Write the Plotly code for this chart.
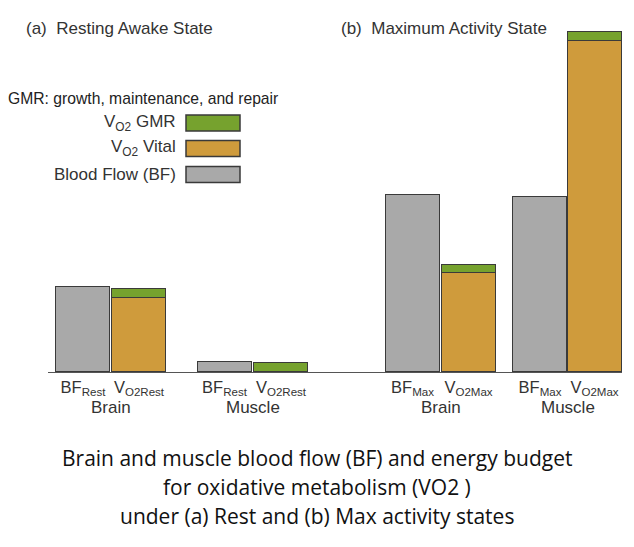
import plotly.graph_objects as go

# ---- data (arbitrary units) ----
bar_labels = ["BF<sub>Rest</sub>", "V<sub>O2Rest</sub>", "BF<sub>Rest</sub>", "V<sub>O2Rest</sub>",
              "BF<sub>Max</sub>", "V<sub>O2Max</sub>", "BF<sub>Max</sub>", "V<sub>O2Max</sub>"]
group_labels = ["Brain", "Muscle", "Brain", "Muscle"]
blood_flow = [85, 10, 177, 175]          # BF bars: brain rest, muscle rest, brain max, muscle max
vo2_vital = [74, 0, 99, 331]             # VO2 vital part
vo2_gmr = [9, 9, 8, 9]                   # VO2 GMR part
panel_titles = ["(a)  Resting Awake State", "(b)  Maximum Activity State"]
legend_labels = ["V<sub>O2</sub> GMR", "V<sub>O2</sub> Vital", "Blood Flow (BF)"]
legend_note = "GMR: growth, maintenance, and repair"
caption = ["Brain and muscle blood flow (BF) and energy budget",
           "for oxidative metabolism (VO2 )",
           "under (a) Rest and (b) Max activity states"]

# ---- layout constants ----
W, H = 634, 547
GRAY, ORANGE, GREEN, EDGE = "#a9a9a9", "#cf9b3c", "#76a22e", "#3a3a3a"
bf_pos = [83, 224.5, 412.5, 540]
vo2_pos = [139, 281, 468.5, 594.5]
group_pos = [111, 252.5, 440.5, 567.5]
BW = 54
X0, X1 = 48, 622
Y_BASE, Y_TOP = 372, 20

def px(x):
    return x / W

def py(y):
    return 1 - y / H

fig = go.Figure()
line = dict(color=EDGE, width=1.5)
fig.add_trace(go.Bar(x=bf_pos, y=blood_flow, width=BW, marker=dict(color=GRAY, line=line),
                     name="Blood Flow (BF)", showlegend=False))
fig.add_trace(go.Bar(x=vo2_pos, y=vo2_vital, width=BW, marker=dict(color=ORANGE, line=line),
                     name="VO2 Vital", showlegend=False))
fig.add_trace(go.Bar(x=vo2_pos, y=vo2_gmr, width=BW, marker=dict(color=GREEN, line=line),
                     name="VO2 GMR", showlegend=False))

tickvals = []
for b, v in zip(bf_pos, vo2_pos):
    tickvals += [b, v]

fig.update_layout(
    width=W, height=H, margin=dict(l=0, r=0, t=0, b=0),
    paper_bgcolor="white", plot_bgcolor="white",
    barmode="stack", bargap=0,
    font=dict(family="Liberation Sans, Arial", color="#333333"),
    xaxis=dict(domain=[px(X0), px(X1)], range=[X0, X1], showgrid=False, zeroline=False,
               showline=True, linecolor="#555555", linewidth=1,
               tickvals=tickvals, ticktext=bar_labels, ticks="", ticklabelstandoff=0,
               tickfont=dict(size=16.5, color="#333333")),
    yaxis=dict(domain=[py(Y_BASE), py(Y_TOP)], range=[0, Y_BASE - Y_TOP], visible=False),
)

annotations = []
for gx, g in zip(group_pos, group_labels):
    annotations.append(dict(x=gx, xref="x", y=py(407), yref="paper", text=g, showarrow=False,
                            font=dict(size=17, color="#333333"), xanchor="center", yanchor="middle"))
annotations.append(dict(x=px(24), y=py(29), xref="paper", yref="paper", text=panel_titles[0], showarrow=False,
                        xanchor="left", yanchor="middle", font=dict(size=17, color="#333333")))
annotations.append(dict(x=px(339), y=py(29), xref="paper", yref="paper", text=panel_titles[1], showarrow=False,
                        xanchor="left", yanchor="middle", font=dict(size=17, color="#333333")))
annotations.append(dict(x=px(6), y=py(99), xref="paper", yref="paper", text=legend_note, showarrow=False,
                        xanchor="left", yanchor="middle", font=dict(size=15.7, color="#222222")))
leg_y = [123, 148.5, 174.5]
leg_colors = [GREEN, ORANGE, GRAY]
shapes = []
for lbl, yc, c in zip(legend_labels, leg_y, leg_colors):
    annotations.append(dict(x=px(178), y=py(yc), xref="paper", yref="paper", text=lbl, showarrow=False,
                            xanchor="right", yanchor="middle", font=dict(size=17, color="#333333")))
    shapes.append(dict(type="rect", xref="paper", yref="paper", x0=px(186), x1=px(240),
                       y0=py(yc + 8), y1=py(yc - 8), fillcolor=c, line=dict(color=EDGE, width=1.5)))
for i, (t, yc) in enumerate(zip(caption, [458, 487, 516])):
    annotations.append(dict(x=0.5, y=py(yc), xref="paper", yref="paper", text=t, showarrow=False,
                            xanchor="center", yanchor="middle",
                            font=dict(family="Open Sans", size=21, color="#111111")))
fig.update_layout(annotations=annotations, shapes=shapes)

fig.write_html("out.html")
